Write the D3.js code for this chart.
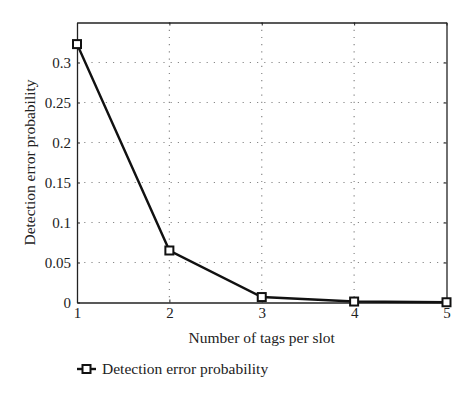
<!DOCTYPE html>
<html><head><meta charset="utf-8">
<script src="https://cdn.jsdelivr.net/npm/d3@7"></script>
<style>body{margin:0;background:#fff}svg{display:block}</style>
</head><body>
<script>
const tags = [1, 2, 3, 4, 5];
const errorProb = [0.323, 0.065, 0.0068, 0.0012, 0.0003];
const yTicks = [0, 0.05, 0.1, 0.15, 0.2, 0.25, 0.3];
const yTickLabels = ["0", "0.05", "0.1", "0.15", "0.2", "0.25", "0.3"];
const seriesName = "Detection error probability";

const W = 474, H = 400;
const m = {left: 77, right: 27.5, top: 22.5, bottom: 97.5};
const svg = d3.select("body").append("svg").attr("width", W).attr("height", H);
const font = "'Liberation Serif', 'Times New Roman', serif";

const x = d3.scaleLinear().domain([1, 5]).range([m.left, W - m.right]);
const y = d3.scaleLinear().domain([0, 0.35]).range([H - m.bottom, m.top]);

const g = svg.append("g");
// grid
g.selectAll(".gy").data(yTicks.slice(1)).enter().append("line")
  .attr("x1", m.left).attr("x2", W - m.right)
  .attr("y1", d => y(d)).attr("y2", d => y(d))
  .attr("stroke", "#888").attr("stroke-width", 1.2).attr("stroke-dasharray", "1.2,6");
g.selectAll(".gx").data(tags.slice(1, -1)).enter().append("line")
  .attr("y1", m.top).attr("y2", H - m.bottom)
  .attr("x1", d => x(d)).attr("x2", d => x(d))
  .attr("stroke", "#888").attr("stroke-width", 1.2).attr("stroke-dasharray", "1.2,6");

// axes
const xAxis = d3.axisBottom(x).tickValues(tags).tickFormat(d3.format("d")).tickSizeInner(-3).tickSizeOuter(0).tickPadding(5);
const yAxis = d3.axisLeft(y).tickValues(yTicks).tickFormat((d, i) => yTickLabels[i]).tickSizeInner(-3).tickSizeOuter(0).tickPadding(6);
const xTop = d3.axisTop(x).tickValues(tags).tickFormat("").tickSizeInner(-3).tickSizeOuter(0);
const yRight = d3.axisRight(y).tickValues(yTicks).tickFormat("").tickSizeInner(-3).tickSizeOuter(0);

function style(sel){
  sel.selectAll("path").attr("stroke", "#222").attr("stroke-width", 1.3);
  sel.selectAll("line").attr("stroke", "#222").attr("stroke-width", 1);
  sel.selectAll("text").attr("font-family", font).attr("font-size", 15).attr("fill", "#222");
}
style(svg.append("g").attr("transform", `translate(0,${H - m.bottom})`).call(xAxis));
style(svg.append("g").attr("transform", `translate(${m.left},0)`).call(yAxis));
style(svg.append("g").attr("transform", `translate(0,${m.top})`).call(xTop));
style(svg.append("g").attr("transform", `translate(${W - m.right},0)`).call(yRight));

// line
const data = tags.map((t, i) => ({t, v: errorProb[i]}));
svg.append("path").datum(data)
  .attr("fill", "none").attr("stroke", "#111").attr("stroke-width", 2.4)
  .attr("d", d3.line().x(d => x(d.t)).y(d => y(d.v)));
const s = 8;
svg.selectAll(".mk").data(data).enter().append("rect")
  .attr("x", d => x(d.t) - s/2).attr("y", d => y(d.v) - s/2)
  .attr("width", s).attr("height", s)
  .attr("fill", "#fff").attr("stroke", "#111").attr("stroke-width", 2);

// labels
svg.append("text").attr("x", (m.left + W - m.right) / 2).attr("y", 343)
  .attr("text-anchor", "middle").attr("font-family", font).attr("font-size", 15.5).attr("fill", "#222")
  .text("Number of tags per slot");
svg.append("text").attr("transform", `translate(35,${(m.top + H - m.bottom) / 2}) rotate(-90)`)
  .attr("text-anchor", "middle").attr("font-family", font).attr("font-size", 15.5).attr("fill", "#222")
  .text("Detection error probability");

// legend
const ly = 369;
svg.append("line").attr("x1", 77).attr("x2", 96).attr("y1", ly).attr("y2", ly)
  .attr("stroke", "#111").attr("stroke-width", 2.4);
svg.append("rect").attr("x", 86.5 - s/2).attr("y", ly - s/2).attr("width", s).attr("height", s)
  .attr("fill", "#fff").attr("stroke", "#111").attr("stroke-width", 2);
svg.append("text").attr("x", 102).attr("y", ly + 5).attr("font-family", font).attr("font-size", 15.5).attr("fill", "#222")
  .text(seriesName);
</script>
</body></html>
